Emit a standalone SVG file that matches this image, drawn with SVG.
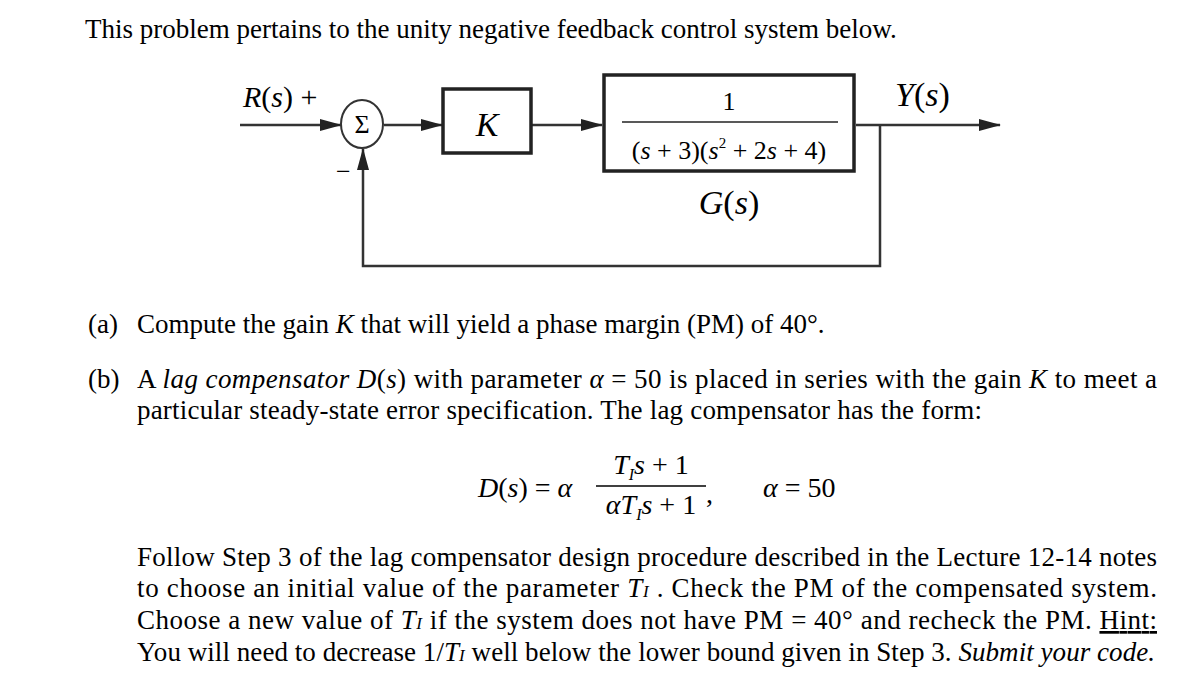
<svg xmlns="http://www.w3.org/2000/svg" width="1195" height="689" viewBox="0 0 1195 689">
<defs>
<style>
text{font-family:"Liberation Serif","Times New Roman",serif;fill:#000}
.b{font-size:27px}
.i{font-style:italic}
.ln{stroke:#333;stroke-width:2.5;fill:none}
.bx{stroke:#222;stroke-width:3.5;fill:#fff}
</style>
<marker id="ar" markerWidth="22" markerHeight="12" refX="21" refY="6" orient="auto" markerUnits="userSpaceOnUse"><path d="M0,0 L22,6 L0,12 Z" fill="#222"/></marker>
</defs>
<rect width="1195" height="689" fill="#fff"/>
<text class="b" x="85" y="38">This problem pertains to the unity negative feedback control system below.</text>
<g id="connectors">
<line class="ln" x1="240" y1="125" x2="341" y2="125" marker-end="url(#ar)"/>
<line class="ln" x1="384" y1="125" x2="442" y2="125" marker-end="url(#ar)"/>
<line class="ln" x1="532" y1="125" x2="602" y2="125" marker-end="url(#ar)"/>
<line class="ln" x1="856" y1="125" x2="1000" y2="125" marker-end="url(#ar)"/>
<polyline class="ln" points="880,125 880,266 363,266 363,149" marker-end="url(#ar)"/>
</g>
<g id="sum"><ellipse cx="362" cy="124" rx="21" ry="24" fill="#fff" stroke="#333" stroke-width="2"/><text x="362" y="133" font-size="26" text-anchor="middle">Σ</text></g>
<g id="k"><rect class="bx" x="443" y="89" width="88" height="64"/><text x="487" y="136" font-size="34" class="i" text-anchor="middle">K</text></g>
<g id="g"><rect class="bx" x="604" y="75" width="250" height="96"/>
<text x="729" y="110" font-size="26" text-anchor="middle">1</text>
<line x1="622" y1="122" x2="838" y2="122" stroke="#222" stroke-width="1.5"/>
<text x="729" y="159" font-size="26" text-anchor="middle">(<tspan class="i">s</tspan> + 3)(<tspan class="i">s</tspan><tspan font-size="15" dy="-11">2</tspan><tspan dy="11"> + 2</tspan><tspan class="i">s</tspan> + 4)</text>
<text x="729" y="214" font-size="34" text-anchor="middle"><tspan class="i">G</tspan>(<tspan class="i">s</tspan>)</text></g>
<text x="243" y="107" font-size="30"><tspan class="i">R</tspan>(<tspan class="i">s</tspan>) +</text>
<text x="336" y="180" font-size="26">−</text>
<text x="895" y="106" font-size="34"><tspan class="i">Y</tspan>(<tspan class="i">s</tspan>)</text>
<text class="b" x="88" y="333">(a)</text>
<text class="b" x="137" y="333">Compute the gain <tspan class="i">K</tspan> that will yield a phase margin (PM) of 40°.</text>
<text class="b" x="88" y="388">(b)</text>
<text class="b" x="137" y="388" textLength="1020" lengthAdjust="spacing">A <tspan class="i">lag compensator D</tspan>(<tspan class="i">s</tspan>) with parameter <tspan class="i">α</tspan> = 50 is placed in series with the gain <tspan class="i">K</tspan> to meet a</text>
<text class="b" x="137" y="419" textLength="845" lengthAdjust="spacing">particular steady-state error specification. The lag compensator has the form:</text>
<text x="478" y="497" font-size="28" class="i">D<tspan font-style="normal">(</tspan>s<tspan font-style="normal">) =  </tspan>α</text>
<text x="651" y="474" font-size="28" class="i" text-anchor="middle">T<tspan font-size="16" dy="6">I</tspan><tspan dy="-6">s</tspan><tspan font-style="normal"> + 1</tspan></text>
<line x1="596" y1="486" x2="706" y2="486" stroke="#000" stroke-width="1.5"/>
<text x="651" y="514" font-size="28" class="i" text-anchor="middle">αT<tspan font-size="16" dy="6">I</tspan><tspan dy="-6">s</tspan><tspan font-style="normal"> + 1</tspan></text>
<text x="706" y="503" font-size="28">,</text>
<text x="763" y="497" font-size="28"><tspan class="i">α</tspan> = 50</text>
<text class="b" x="137" y="566" textLength="1020" lengthAdjust="spacing">Follow Step 3 of the lag compensator design procedure described in the Lecture 12-14 notes</text>
<text class="b" x="137" y="597" textLength="1020" lengthAdjust="spacing">to choose an initial value of the parameter <tspan class="i">T<tspan font-size="17">I</tspan></tspan> . Check the PM of the compensated system.</text>
<text class="b" x="137" y="629" textLength="1020" lengthAdjust="spacing">Choose a new value of <tspan class="i">T<tspan font-size="17">I</tspan></tspan> if the system does not have PM = 40° and recheck the PM. <tspan text-decoration="underline">Hint:</tspan></text>
<text class="b" x="137" y="661" textLength="1018" lengthAdjust="spacing">You will need to decrease 1/<tspan class="i">T<tspan font-size="17">I</tspan></tspan> well below the lower bound given in Step 3.  <tspan class="i">Submit your code.</tspan></text>
</svg>
